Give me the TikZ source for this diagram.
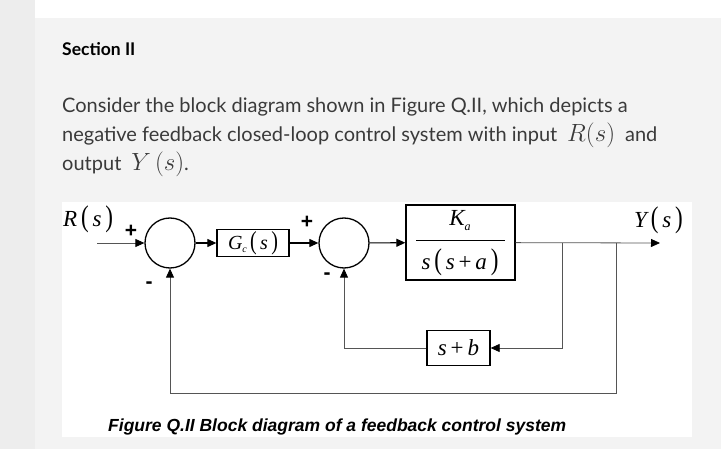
\documentclass[tikz,border=0pt]{standalone}
\usepackage{fontspec}
\setmainfont{Lato}
\newfontfamily\tms{Liberation Serif}
\newfontfamily\arl{Liberation Sans}
\usetikzlibrary{arrows.meta}
\definecolor{pnl}{HTML}{F3F3F3}
\definecolor{strip}{HTML}{EDEDED}
\definecolor{txt}{HTML}{3A3A3A}
\definecolor{fb}{HTML}{555555}
\newcommand{\bp}[1]{\scalebox{1}[1.3]{\upshape#1}}
\begin{document}
\begin{tikzpicture}[x=1pt,y=-1pt,
  ln/.style={line width=1.1pt},
  fbl/.style={line width=0.8pt,draw=fb},
  arr/.style={-{Triangle[length=9pt,width=8pt,color=black]}},
  blk/.style={draw,line width=1.3pt,fill=white,inner sep=0pt},
  sumc/.style={draw,circle,line width=1.3pt,minimum size=50pt,inner sep=0pt},
  tm/.style={font=\tms\itshape\fontsize{23}{23}\selectfont,inner sep=0pt},
  sg/.style={font=\arl\bfseries\fontsize{21}{21}\selectfont,inner sep=0pt}]
\useasboundingbox (0,0) rectangle (721,449);
\fill[strip] (0,0) rectangle (35,449);
\fill[pnl] (35,0) rectangle (721,449);
\fill[white] (35,0) rectangle (721,18);
\fill[white] (62,202) rectangle (692,437);
% texts
\node[anchor=base west,inner sep=0pt,font=\bfseries\fontsize{17.5}{17.5}\selectfont] (sec) at (62,56) {Section II};
\node[anchor=base west,inner sep=0pt,text=txt,font=\fontsize{20}{20}\selectfont] (l1) at (62,113) {Consider the block diagram shown in Figure Q.II, which depicts a};
\node[anchor=base west,inner sep=0pt,text=txt,font=\fontsize{20}{20}\selectfont] (l2) at (62,142) {negative feedback closed-loop control system with input\enspace{\fontsize{23}{23}\selectfont$R(s)$}\enspace and};
\node[anchor=base west,inner sep=0pt,text=txt,font=\fontsize{20}{20}\selectfont] (l3) at (62,171) {output\enspace{\fontsize{23}{23}\selectfont$Y\,(s)$}.};
% diagram
\node[sumc] (s1) at (170,243) {};
\node[sumc] (s2) at (344,243) {};
\node[blk,minimum width=72pt,minimum height=27pt] (gc) at (253,243) {};
\node[tm,font=\tms\itshape\fontsize{20}{20}\selectfont] (gct) at (253,243) {G\raisebox{-3pt}{\fontsize{10}{10}\selectfont c}\,\bp(\,s\,\bp)};
\node[blk,minimum width=109pt,minimum height=75pt] (pl) at (460.5,242.5) {};
\node[tm] (ka) at (460,221) {K\raisebox{-5pt}{\fontsize{12}{12}\selectfont a}};
\node[tm] (den) at (460,262) {s\,\bp(\,s\upshape\,+\,\itshape a\,\bp)};
\draw[line width=0.9pt] (416,240) -- (505,240);
\node[blk,minimum width=63pt,minimum height=35pt] (hb) at (458.5,348) {};
\node[tm] (hbt) at (458.5,348) {s\upshape\,+\,\itshape b};
\coordinate (in) at (97,243);
\coordinate (out) at (660,243);
\coordinate (br1) at (562,243);
\coordinate (br2) at (616,243);
\draw[fbl,arr] (in) -- (s1);
\draw[ln,arr] (s1) -- (gc);
\draw[ln,arr] (gc) -- (s2);
\draw[ln,arr] (s2) -- (pl);
\draw[fbl,arr] (pl) -- (out);
\draw[fbl,arr] (br1) |- (hb);
\draw[fbl,arr] (hb) -| (s2);
\draw[fbl,arr] (br2) |- (170,393) -- (s1);
\node[tm,anchor=west] (rs) at (63,219) {R\,\bp(\,s\,\bp)};
\node[tm,anchor=west] (ys) at (634,220) {Y\,\bp(\,s\,\bp)};
\node[sg] (p1) at (131,231) {+};
\node[sg] (m1) at (149,285) {-};
\node[sg] (p2) at (307,222) {+};
\node[sg] (m2) at (327,276) {-};
\node[anchor=base west,inner sep=0pt,font=\arl\bfseries\itshape\fontsize{17.5}{17.5}\selectfont] (cap) at (108,431) {Figure Q.II Block diagram of a feedback control system};
\end{tikzpicture}
\end{document}
